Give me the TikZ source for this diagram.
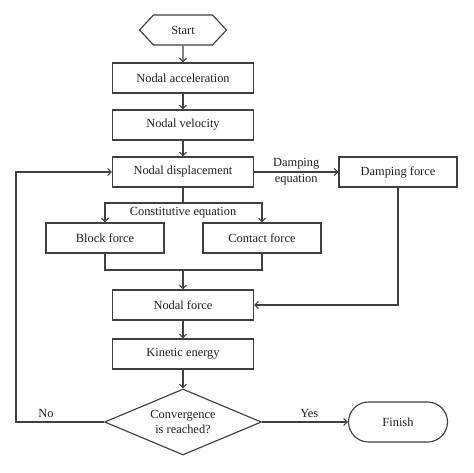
\documentclass[tikz,border=0pt]{standalone}
\usepackage{fontspec}
\setmainfont{Liberation Serif}
\usetikzlibrary{arrows.meta,shapes.symbols,shapes.geometric,shapes.misc}
\begin{document}
\begin{tikzpicture}[x=1pt,y=-1pt,
  line width=1.15pt, draw=black!75, text=black!88,
  font=\fontsize{12.4}{14.5}\selectfont,
  arr/.style={-{Straight Barb[length=3.5pt,width=7pt]}},
  box/.style={draw, rectangle, minimum width=141pt, minimum height=30pt, inner sep=0pt},
  sbox/.style={draw, rectangle, minimum width=118pt, minimum height=30pt, inner sep=0pt},
  lbl/.style={inner sep=1pt}]
\useasboundingbox (0,0) rectangle (474,472);
\node[draw, signal, signal to=west and east, signal pointer angle=94, minimum width=87pt, minimum height=30pt, inner sep=0pt] (start) at (183,30) {Start};
\node[box] (acc) at (183,78) {Nodal acceleration};
\node[box] (vel) at (183,125) {Nodal velocity};
\node[box] (disp) at (183,172) {Nodal displacement};
\node[sbox] (damp) at (398,172) {Damping force};
\node[sbox] (block) at (105,238) {Block force};
\node[sbox] (contact) at (262,238) {Contact force};
\node[box] (nforce) at (183,305) {Nodal force};
\node[box] (kin) at (183,354) {Kinetic energy};
\node[draw, diamond, aspect=2.4, minimum width=157pt, minimum height=66pt, inner sep=0pt, align=center] (conv) at (183,422) {Convergence\\is reached?};
\node[draw, rectangle, rounded corners=20pt, minimum width=99pt, minimum height=40pt, inner sep=0pt] (finish) at (398,422) {Finish};
\coordinate (split) at (183,203);
\coordinate (merge) at (183,270);
\coordinate (loop) at (16,422);

\draw[arr] (start) -- (acc);
\draw[arr] (acc) -- (vel);
\draw[arr] (vel) -- (disp);
\draw[arr] (disp) -- node[lbl, above=1pt]{Damping} node[lbl, below=1pt]{equation} (damp);
\draw (disp) -- (split);
\draw[arr] (split) -| (block.north);
\draw[arr] (split) -| (contact.north);
\node[lbl] (consteq) at (183,213) {Constitutive equation};
\draw (block.south) |- (merge);
\draw (contact.south) |- (merge);
\draw[arr] (merge) -- (nforce);
\draw[arr] (damp.south) |- (nforce.east);
\draw[arr] (nforce) -- (kin);
\draw[arr] (kin) -- (conv);
\draw[arr] (conv.east) -- node[lbl, above=3pt, pos=0.55]{Yes} (finish.west);
\draw[arr] (conv.west) -- (loop) |- (disp.west);
\node[lbl] (no) at (46,413) {No};
\end{tikzpicture}
\end{document}
